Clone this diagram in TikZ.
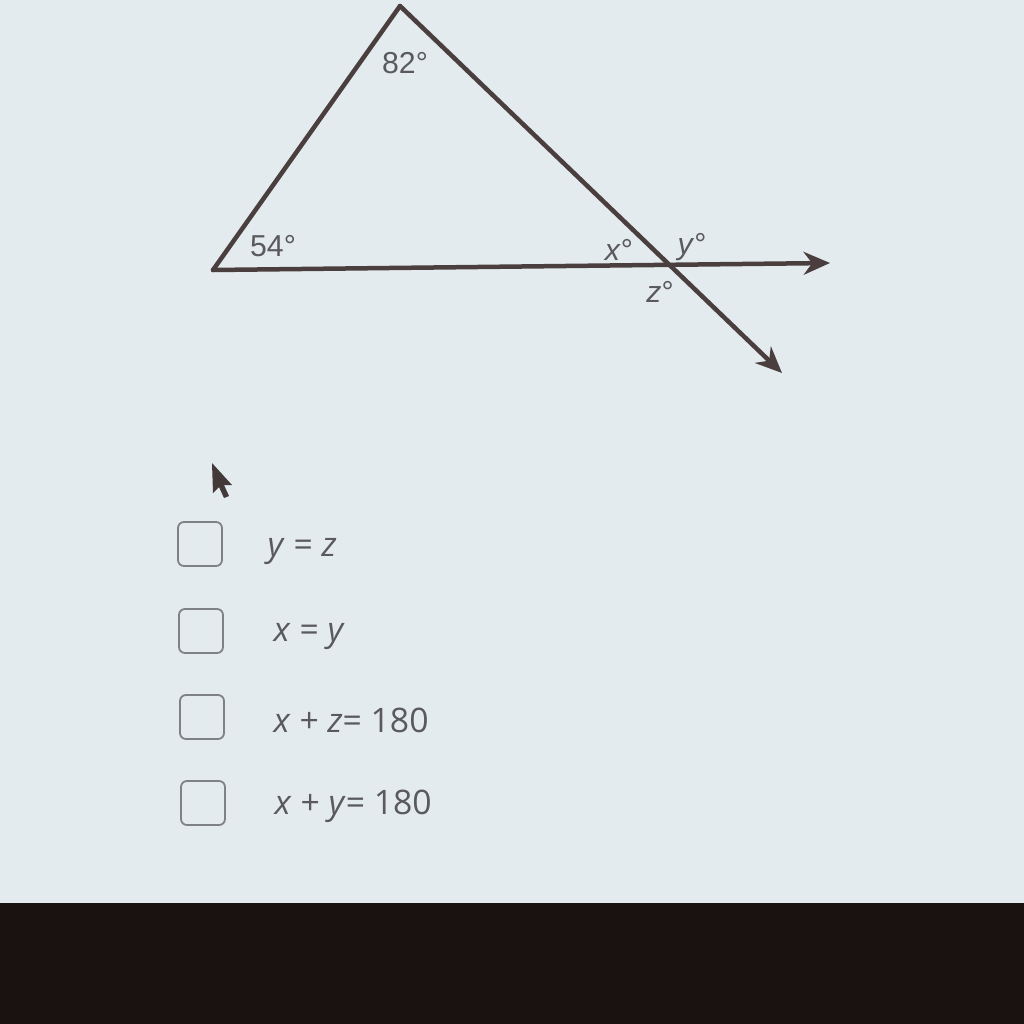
\documentclass[tikz,border=0pt]{standalone}
\usepackage{fontspec}
\setmainfont{Liberation Sans}
\newfontfamily\choicefont{Open Sans}
\usetikzlibrary{arrows.meta}

\definecolor{screenbg}{HTML}{E3EBEF}
\definecolor{bezel}{HTML}{1A1210}
\definecolor{ink}{HTML}{4A3F3E}
\definecolor{labelgray}{HTML}{5A5A5C}
\definecolor{boxgray}{HTML}{7E8284}

\begin{document}
\begin{tikzpicture}[x=0.01cm,y=-0.01cm,
    edge/.style={draw=ink,line width=0.045cm,line cap=round,line join=round},
    ray/.style={edge,-{Stealth[length=7.5pt,width=6.5pt]}},
    angle/.style={text=labelgray,font=\fontsize{8.6}{10}\selectfont,inner sep=0pt},
    checkbox/.style={draw=boxgray,line width=0.018cm,rounded corners=0.06cm,minimum size=0.44cm,inner sep=0pt},
    choice/.style={text=labelgray,font=\choicefont\fontsize{9.6}{11}\selectfont,anchor=west,inner sep=0pt}]
                    % screen and bezel
                    \fill[screenbg] (0,0) rectangle (1024,1024);
                    \fill[bezel] (0,903) rectangle (1024,1024);

                    % triangle and rays
                    \coordinate (A) at (400,6);
                    \coordinate (B) at (213,270);
                    \coordinate (P) at (668,266);
                    \coordinate (H) at (830,263);
                    \coordinate (D) at (782,373);

                    \draw[edge] (B) -- (A);
                    \draw[ray] (A) -- (D);
                    \draw[ray] (B) -- (H);

                    % angle labels
                    \node[angle] at (405,63) (a82) {82°};
                    \node[angle] at (273,246) (a54) {54°};
                    \node[angle] at (619,250) (ax) {\textit{x}°};
                    \node[angle] at (692,247) (ay) {\textit{y}°};
                    \node[angle] at (660,292) (az) {\textit{z}°};

                    % mouse pointer
                    \fill[ink!90!black] (212,463) -- (213,493) -- (219,487) -- (224,498) -- (229,496) -- (224,485) -- (232,485) -- cycle;

                    % answer choices
                    \node[checkbox] at (200,544) (c1) {};
                    \node[checkbox] at (201,631) (c2) {};
                    \node[checkbox] at (202,717) (c3) {};
                    \node[checkbox] at (203,803) (c4) {};

                    \node[choice] at (267,552) (t1) {\textit{y} = \textit{z}};
                    \node[choice] at (273,637) (t2) {\textit{x} = \textit{y}};
                    \node[choice] at (273,720) (t3) {\textit{x} + \textit{z}= 180};
                    \node[choice] at (274,806) (t4) {\textit{x} + \textit{y}= 180};
                \end{tikzpicture}
\end{document}
